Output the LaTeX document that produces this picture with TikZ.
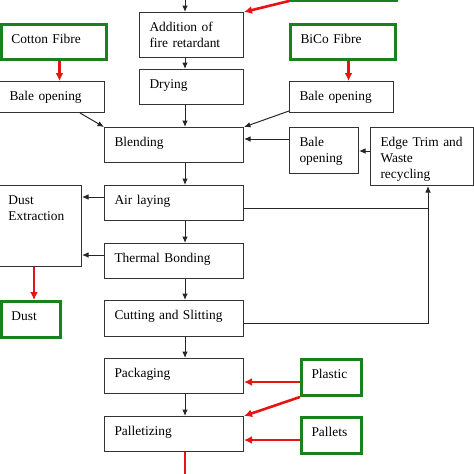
\documentclass[tikz,border=0pt]{standalone}
\usepackage{fontspec}
\setmainfont{Liberation Serif}
\usetikzlibrary{arrows.meta}

\definecolor{boxgreen}{RGB}{25,130,30}
\definecolor{arrred}{RGB}{232,20,20}

\begin{document}
\begin{tikzpicture}[x=1pt,y=-1pt,
  blk/.style 2 args={draw=black!80, line width=1pt, anchor=north west, align=left,
    inner xsep=10pt, inner ysep=0pt, text width=#1pt, text height=19pt, text depth=#2pt,
    font=\fontsize{13.4pt}{16pt}\selectfont},
  src/.style 2 args={blk={#1}{#2}, draw=boxgreen, line width=3pt},
  arr/.style={draw=black!85, line width=1pt, -{Latex[length=6.5pt,width=5.5pt]}},
  redarr/.style={draw=arrred, line width=2.6pt, -{Latex[length=8pt,width=8pt]}}]

\useasboundingbox (0,0) rectangle (474,474);
\clip (0,0) rectangle (474,474);

% columns used by the connectors
\coordinate (spine) at (185,0);
\coordinate (loop) at (428,0);
\coordinate (dcol) at (34,0);
\coordinate (topin) at (185,-5);
\coordinate (out) at (185,480);

% main line
\node[blk={84}{26}] (add) at (139,12) {Addition of\\fire retardant};
\node[blk={84}{16}] (dry) at (139,69) {Drying};
\node[blk={119}{16}] (blend) at (104,127) {Blending};
\node[blk={119}{16}] (air) at (104,185) {Air laying};
\node[blk={119}{16}] (thermal) at (104,243) {Thermal Bonding};
\node[blk={119}{17}] (cut) at (104,300) {Cutting and Slitting};
\node[blk={119}{16}] (pack) at (104,358) {Packaging};
\node[blk={119}{16}] (pall) at (104,416) {Palletizing};

% fibres
\node[src={86}{22}] (topfib) at (289,-42) {};
\node[src={85}{16}] (cotton) at (0,23) {Cotton Fibre};
\node[src={85}{16}] (bico) at (289,23) {BiCo Fibre};
\node[blk={85}{12}] (baleL) at (-1,81) {Bale opening};
\node[blk={84}{12}] (baleR) at (289,81) {Bale opening};

% recycling
\node[blk={49}{27}] (bale2) at (289,127) {Bale\\opening};
\node[blk={83}{39}] (edge) at (370,127) {Edge Trim and\\Waste\\recycling};

% dust
\node[blk={63}{62}] (dustx) at (-2,185) {Dust\\Extraction};
\node[src={39}{17}] (dust) at (0,300) {Dust};

% packing material
\node[src={40}{17}] (plastic) at (300,358) {Plastic};
\node[src={40}{17}] (pallets) at (300,416) {Pallets};

\draw[arr] (topin) -- (add.north -| spine);
\draw[redarr] ([yshift=1pt]topfib.south west) -- (add.north east);
\draw[arr] (add.south -| spine) -- (dry.north -| spine);
\draw[arr] (dry.south -| spine) -- (blend.north -| spine);
\draw[arr] (blend.south -| spine) -- (air.north -| spine);
\draw[arr] (air.south -| spine) -- (thermal.north -| spine);
\draw[arr] (thermal.south -| spine) -- (cut.north -| spine);
\draw[arr] (cut.south -| spine) -- (pack.north -| spine);
\draw[arr] (pack.south -| spine) -- (pall.north -| spine);
\draw[draw=arrred, line width=2.6pt] (pall.south -| spine) -- (out);

\draw[redarr] ([xshift=5.5pt]cotton.south) -- ([xshift=5.5pt]cotton.south |- baleL.north);
\draw[redarr] ([xshift=5.5pt]bico.south) -- ([xshift=5.5pt]bico.south |- baleR.north);
\draw[arr] ([xshift=-25pt]baleL.south east) -- (blend.north west);
\draw[arr] ([yshift=2pt]baleR.south west) -- (blend.north east);
\draw[arr] ([yshift=-12pt]bale2.north west) -- ([yshift=-12pt]blend.north east);
\draw[arr] ([yshift=-24pt]edge.north west) -- ([yshift=-24pt]bale2.north east);

\draw[draw=black!85, line width=1pt] ([yshift=-23pt]air.north east) -- ([yshift=-23pt]air.north east -| loop);
\draw[arr] ([yshift=-23pt]cut.north east) -| (loop |- edge.south);

\draw[arr] ([yshift=-12pt]air.north west) -- ([yshift=-12pt]air.north west -| dustx.east);
\draw[arr] ([yshift=-12pt]thermal.north west) -- ([yshift=-12pt]thermal.north west -| dustx.east);
\draw[redarr] (dustx.south -| dcol) -- (dust.north -| dcol);

\draw[redarr] ([yshift=-24pt]plastic.north west) -- ([yshift=-24pt]pack.north east);
\draw[redarr] (plastic.south west) -- (pall.north east);
\draw[redarr] ([yshift=-24pt]pallets.north west) -- ([yshift=-24pt]pall.north east);

\end{tikzpicture}
\end{document}
